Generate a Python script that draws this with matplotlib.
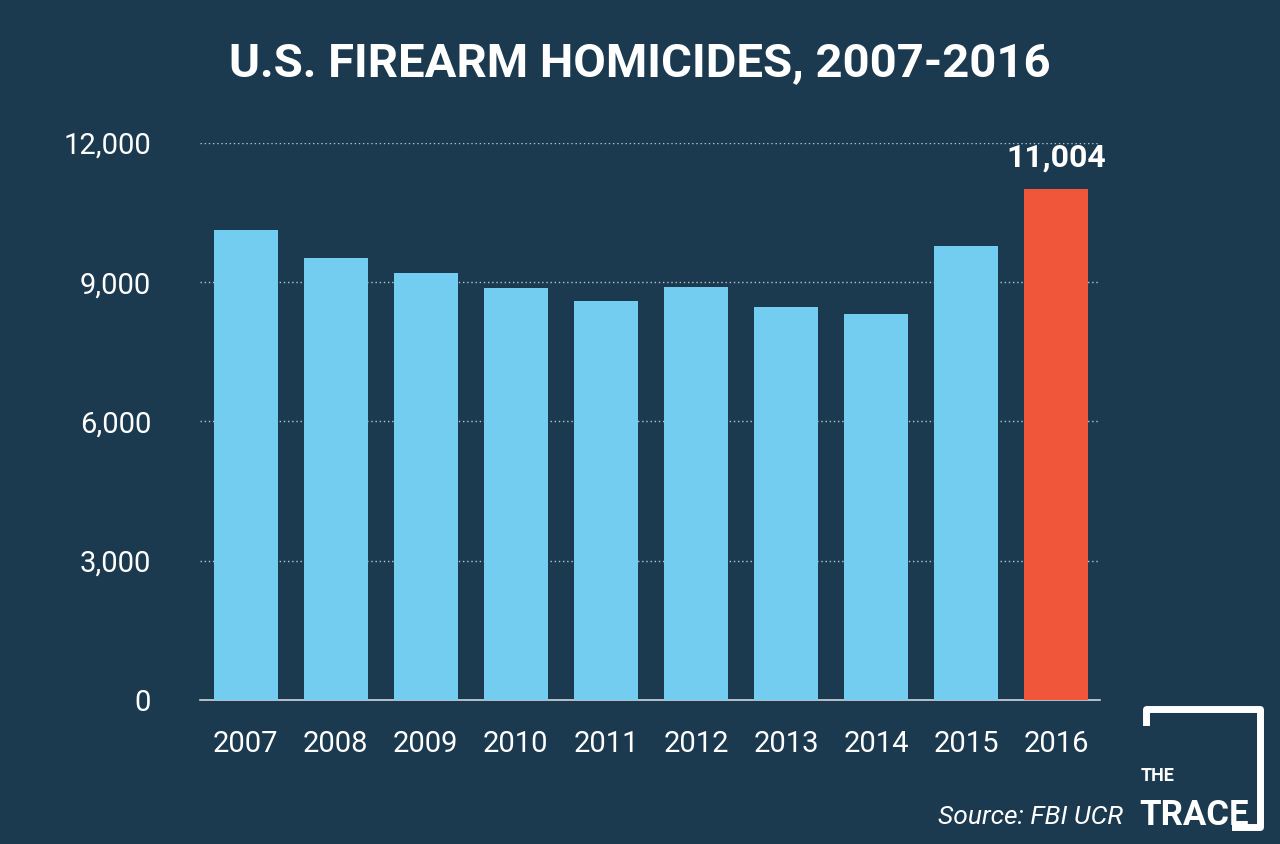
import matplotlib
matplotlib.use("Agg")
import matplotlib.pyplot as plt
from matplotlib.lines import Line2D

years = ["2007","2008","2009","2010","2011","2012","2013","2014","2015","2016"]
values = [10129, 9528, 9199, 8874, 8583, 8897, 8454, 8312, 9778, 11004]
yticks = [0, 3000, 6000, 9000, 12000]
ytick_labels = ["0", "3,000", "6,000", "9,000", "12,000"]

bg = "#1b3a50"
fig = plt.figure(figsize=(12.8, 8.44), dpi=100, facecolor=bg)
ax = fig.add_axes([0.156, 0.171, 0.703, 0.6596], facecolor=bg)
colors = ["#72cdf1"] * 9 + ["#f0573a"]
x = range(len(years))
ax.bar(x, values, width=0.71, color=colors, zorder=3)
ax.set_xlim(-0.51, 9.48)
ax.set_ylim(0, 12000)
ax.set_yticks(yticks)
ax.set_yticklabels(ytick_labels)
ax.set_xticks(list(x))
ax.set_xticklabels(years)
for s in ["top", "right", "left"]:
    ax.spines[s].set_visible(False)
ax.spines["bottom"].set_color("#d0d6db")
ax.spines["bottom"].set_linewidth(1.2)
ax.tick_params(length=0, colors="white", labelsize=21, pad=22)
ax.tick_params(axis="y", pad=35)
for lbl in ax.get_yticklabels() + ax.get_xticklabels():
    lbl.set_fontfamily("Roboto")
    lbl.set_fontweight("normal")
ax.grid(axis="y", color="#b8c4cc", linestyle=(0, (1, 2)), linewidth=1, zorder=0)
ax.set_axisbelow(True)
ax.text(9, values[-1] + 350, "11,004", color="white", fontsize=23, fontweight="bold",
        ha="center", va="bottom", fontfamily="Roboto")

fig.text(0.5, 0.925, "U.S. FIREARM HOMICIDES, 2007-2016", color="white", fontsize=34,
         fontweight="bold", ha="center", va="center", fontfamily="Roboto")
fig.text(0.877, 0.032, "Source: FBI UCR", color="white", fontsize=19, style="italic",
         ha="right", va="center", fontfamily="Roboto")
# logo
fig.add_artist(Line2D([0.895, 0.895, 0.984, 0.984, 0.965], [0.145, 0.16, 0.16, 0.02, 0.02],
                      transform=fig.transFigure, color="white", linewidth=5))
fig.text(0.891, 0.075, "THE", color="white", fontsize=13, fontweight="bold", fontfamily="Roboto")
fig.text(0.890, 0.022, "TRACE", color="white", fontsize=25, fontweight="bold", fontfamily="Roboto")

fig.savefig("out.png", dpi=100, facecolor=bg)
